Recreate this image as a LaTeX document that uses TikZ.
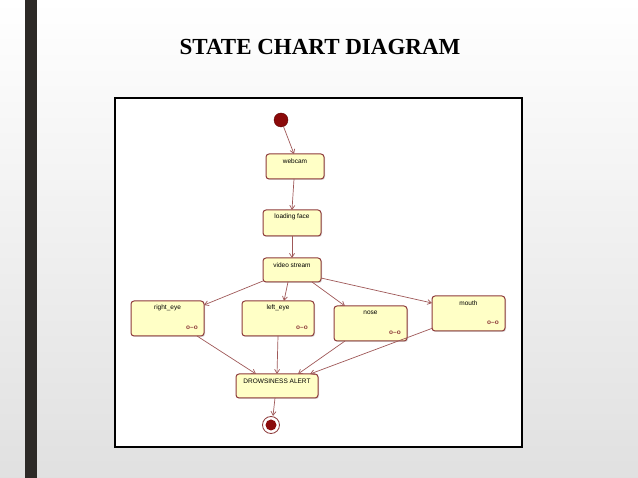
\documentclass[tikz,border=0pt]{standalone}
\usepackage{fontspec}
\setmainfont{Liberation Serif}
\setsansfont{Liberation Sans}
\usetikzlibrary{arrows.meta,shadows}
\definecolor{bd}{HTML}{8E3B3B}
\definecolor{fillc}{HTML}{FFFFC6}
\definecolor{dred}{HTML}{8B0A0A}
\tikzset{
  st/.style={draw=bd,fill=fillc,rounded corners=3pt,line width=1pt,drop shadow={shadow xshift=1pt,shadow yshift=-1pt,opacity=0.3}},
  lbl/.style={font=\sffamily\fontsize{6.5}{7.5}\selectfont,inner sep=0pt},
  oo/.style={font=\sffamily\bfseries\fontsize{6.5}{7}\selectfont,text=bd,inner sep=0pt},
  tr/.style={draw=bd!85,line width=0.7pt,-{Straight Barb[length=4pt,width=5pt]}}
}
\newcommand{\stbox}[6]{% name, x1,y1,x2,y2,label
  \path[st] (#2,#3) rectangle (#4,#5);
  \node[lbl] at ({(#2+#4)/2},#3+7) {#6};
  \coordinate (#1) at ({(#2+#4)/2},{(#3+#5)/2});
}
\begin{document}
\begin{tikzpicture}[x=1pt,y=-1pt]
\shade[top color=white,bottom color=black!12] (0,0) rectangle (638,478);
\useasboundingbox (0,0) rectangle (638,478);
\fill[black!90!olive] (25,0) rectangle (37,478);
\node[font=\bfseries\fontsize{23}{26}\selectfont] (title) at (320,47) {STATE CHART DIAGRAM};
\draw[line width=2.5pt,fill=white] (115,98) rectangle (522,447);
\node[circle,fill=dred,draw=dred!70!black,minimum size=14pt,inner sep=0pt] (start) at (281,120) {};
\stbox{wc}{266}{154}{324}{179}{webcam}
\stbox{lf}{263}{210}{321}{236}{loading face}
\stbox{vs}{263}{258}{321}{282}{video stream}
\stbox{re}{131}{301}{204}{336}{right\_eye}
\stbox{le}{242}{301}{314}{336}{left\_eye}
\stbox{no}{334}{306}{407}{341}{nose}
\stbox{mo}{432}{296}{505}{331}{mouth}
\stbox{da}{236}{374}{318}{398}{DROWSINESS ALERT}
\node[oo] at (192,328) {o--o};
\node[oo] at (302,328) {o--o};
\node[oo] at (395,333) {o--o};
\node[oo] at (493,323) {o--o};
\node[circle,draw=bd,fill=white,line width=0.8pt,minimum size=17pt,inner sep=0pt] (endo) at (271,425) {};
\node[circle,fill=dred,minimum size=11pt,inner sep=0pt] (endi) at (271,425) {};
\coordinate (wcT) at (294,154); \coordinate (wcB) at (294,179);
\coordinate (lfT) at (292,210); \coordinate (lfB) at (292,236);
\coordinate (vsT) at (292,258);
\draw[tr] (start) -- (wcT);
\draw[tr] (wcB) -- (lfT);
\draw[tr] (lfB) -- (vsT);
\coordinate (a1) at (263,281); \coordinate (a2) at (288,282); \coordinate (a3) at (312,282); \coordinate (a4) at (321,278);
\draw[tr] (a1) -- (204,305);
\draw[tr] (a2) -- (284,301);
\draw[tr] (a3) -- (345,306);
\draw[tr] (a4) -- (432,303);
\draw[tr] (197,336) -- (256,374);
\draw[tr] (278,336) -- (277,374);
\draw[tr] (345,341) -- (298,374);
\draw[tr] (433,328) -- (310,374);
\draw[tr] (275,398) -- (273,416);
\end{tikzpicture}
\end{document}
